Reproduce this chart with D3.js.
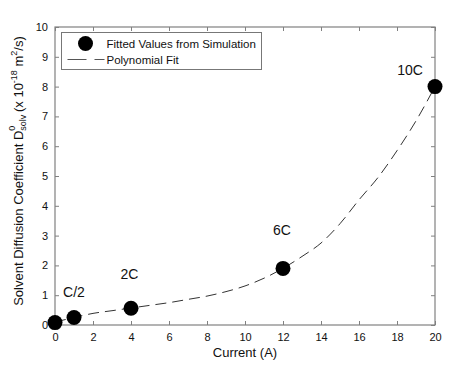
<!DOCTYPE html>
<html>
<head>
<meta charset="utf-8">
<script src="https://cdn.jsdelivr.net/npm/d3@7"></script>
<style>
  body { margin: 0; background: #fff; }
  text { font-family: "Liberation Sans", Arial, sans-serif; fill: #111; }
</style>
</head>
<body>
<div id="chart"></div>
<script>
// data
const currents = [0, 1, 4, 12, 20];
const diffusion = [0.08, 0.25, 0.56, 1.9, 8.0];
const rateLabels = ["", "C/2", "2C", "6C", "10C"];

// polynomial fit, read at each ampere
const fitX = [0, 1, 2, 3, 4, 5, 6, 7, 8, 9, 10, 11, 12, 13, 14, 15, 16, 17, 18, 19, 20];
const fitY = [0.1, 0.25, 0.39, 0.48, 0.57, 0.66, 0.75, 0.86, 0.97, 1.12, 1.31, 1.57, 1.9, 2.3, 2.75, 3.4, 4.2, 4.95, 5.85, 6.85, 8.0];

const xTicks = [0, 2, 4, 6, 8, 10, 12, 14, 16, 18, 20];
const yTicks = [0, 1, 2, 3, 4, 5, 6, 7, 8, 9, 10];

const W = 474, H = 367;
const margin = {top: 27, right: 39, bottom: 42, left: 55};
const width = W - margin.left - margin.right,
      height = H - margin.top - margin.bottom;

const svg = d3.select("#chart").append("svg")
    .attr("width", W).attr("height", H);
const g = svg.append("g")
    .attr("transform", `translate(${margin.left},${margin.top})`);

const x = d3.scaleLinear().domain([0, 20]).range([0, width]);
const y = d3.scaleLinear().domain([0, 10]).range([height, 0]);

const axisColor = "#808080";
function styleAxis(sel, showText) {
  sel.select(".domain").remove();
  sel.selectAll(".tick line").attr("stroke", axisColor);
  sel.selectAll(".tick text").style("font-size", "11px").attr("fill", "#222");
  if (!showText) sel.selectAll(".tick text").remove();
}

// axes with inward ticks
g.append("g").attr("transform", `translate(0,${height})`)
  .call(d3.axisBottom(x).tickValues(xTicks).tickSizeInner(-4).tickSizeOuter(0).tickPadding(8))
  .call(s => styleAxis(s, true));
g.append("g")
  .call(d3.axisTop(x).tickValues(xTicks).tickSizeInner(-4).tickSizeOuter(0))
  .call(s => styleAxis(s, false));
g.append("g")
  .call(d3.axisLeft(y).tickValues(yTicks).tickSizeInner(-4).tickSizeOuter(0).tickPadding(7))
  .call(s => styleAxis(s, true));
g.append("g").attr("transform", `translate(${width},0)`)
  .call(d3.axisRight(y).tickValues(yTicks).tickSizeInner(-4).tickSizeOuter(0))
  .call(s => styleAxis(s, false));

// frame
g.append("rect").attr("width", width).attr("height", height)
  .attr("fill", "none").attr("stroke", axisColor).attr("stroke-width", 1.2);

// fit line
const fit = fitX.map((v, i) => [v, fitY[i]]);
g.append("path").datum(fit)
  .attr("fill", "none").attr("stroke", "#333").attr("stroke-width", 1)
  .attr("stroke-dasharray", "11,6")
  .attr("d", d3.line().x(d => x(d[0])).y(d => y(d[1])).curve(d3.curveMonotoneX));

// points
const pts = currents.map((c, i) => ({c, d: diffusion[i], label: rateLabels[i]}));
g.selectAll("circle.pt").data(pts).enter().append("circle")
  .attr("class", "pt")
  .attr("cx", d => x(d.c)).attr("cy", d => y(d.d)).attr("r", 7.5)
  .attr("fill", "#000");

// rate labels
const labelOffset = {"C/2": [0, -21], "2C": [-1.5, -29], "6C": [-1, -33], "10C": [-25, -12]};
g.selectAll("text.rate").data(pts.filter(d => d.label)).enter().append("text")
  .attr("class", "rate")
  .attr("x", d => x(d.c) + labelOffset[d.label][0])
  .attr("y", d => y(d.d) + labelOffset[d.label][1])
  .attr("text-anchor", "middle")
  .style("font-size", "14px")
  .text(d => d.label);

// legend
const lg = g.append("g").attr("transform", "translate(6.5,5.5)");
lg.append("rect").attr("width", 200).attr("height", 37)
  .attr("fill", "#fff").attr("stroke", "#777").attr("stroke-width", 1);
lg.append("circle").attr("cx", 24).attr("cy", 11).attr("r", 7.5).attr("fill", "#000");
lg.append("text").attr("x", 45).attr("y", 15).style("font-size", "11.5px").text("Fitted Values from Simulation");
lg.append("line").attr("x1", 6).attr("x2", 43).attr("y1", 27).attr("y2", 27)
  .attr("stroke", "#555").attr("stroke-dasharray", "19,8");
lg.append("text").attr("x", 45).attr("y", 31).style("font-size", "11.5px").text("Polynomial Fit");

// axis titles
svg.append("text")
  .attr("x", margin.left + width / 2).attr("y", 357)
  .attr("text-anchor", "middle").style("font-size", "13px")
  .text("Current (A)");

const yt = svg.append("text")
  .attr("transform", "translate(23,171) rotate(-90)")
  .attr("text-anchor", "middle").style("font-size", "13px");
yt.append("tspan").text("Solvent Diffusion Coefficient D");
yt.append("tspan").attr("dy", 3).style("font-size", "9px").text("solv");
yt.append("tspan").attr("dx", -16).attr("dy", -11).style("font-size", "9px").text("0");
yt.append("tspan").attr("dx", 10).attr("dy", 8).text(" (x 10");
yt.append("tspan").attr("dy", -6).style("font-size", "9px").text("-18");
yt.append("tspan").attr("dy", 6).text(" m");
yt.append("tspan").attr("dy", -6).style("font-size", "9px").text("2");
yt.append("tspan").attr("dy", 6).text("/s)");
</script>
</body>
</html>
